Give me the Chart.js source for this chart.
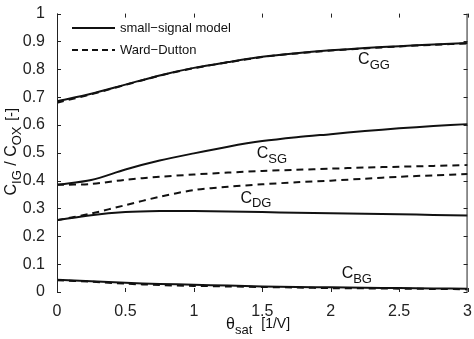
<!DOCTYPE html>
<html>
<head>
<meta charset="utf-8">
<script src="https://cdn.jsdelivr.net/npm/chart.js@4.4.0/dist/chart.umd.min.js"></script>
<style>
  html, body { margin: 0; padding: 0; background: #fff; }
  #wrap { width: 474px; height: 339px; position: relative; }
</style>
</head>
<body>
<div id="wrap"><canvas id="cap-chart"></canvas></div>
<script>
// theta_sat sample points [1/V]
const thetaSat = [0, 0.25, 0.5, 0.75, 1, 1.25, 1.5, 1.75, 2, 2.25, 2.5, 2.75, 3];

// small-signal model (solid)
const cggModel = [0.685, 0.712, 0.745, 0.778, 0.805, 0.826, 0.845, 0.858, 0.868, 0.876, 0.883, 0.889, 0.894];
const csgModel = [0.385, 0.402, 0.440, 0.472, 0.498, 0.522, 0.542, 0.556, 0.567, 0.578, 0.588, 0.596, 0.603];
const cdgModel = [0.258, 0.276, 0.287, 0.291, 0.291, 0.289, 0.287, 0.285, 0.283, 0.281, 0.279, 0.277, 0.275];
const cbgModel = [0.044, 0.039, 0.033, 0.029, 0.026, 0.023, 0.020, 0.018, 0.017, 0.015, 0.014, 0.013, 0.012];

// Ward-Dutton partition (dashed)
const cggWard = [0.680, 0.710, 0.744, 0.777, 0.804, 0.825, 0.844, 0.857, 0.867, 0.875, 0.882, 0.888, 0.893];
const csgWard = [0.385, 0.388, 0.403, 0.414, 0.422, 0.429, 0.435, 0.439, 0.443, 0.447, 0.450, 0.453, 0.456];
const cdgWard = [0.258, 0.282, 0.312, 0.342, 0.366, 0.378, 0.387, 0.394, 0.400, 0.407, 0.414, 0.419, 0.424];
const cbgWard = [0.042, 0.037, 0.030, 0.025, 0.022, 0.020, 0.018, 0.016, 0.014, 0.013, 0.012, 0.011, 0.010];

const xTicks = [0, 0.5, 1, 1.5, 2, 2.5, 3];
const yTicks = [0, 0.1, 0.2, 0.3, 0.4, 0.5, 0.6, 0.7, 0.8, 0.9, 1];

// curve labels: [text, subscript, theta, value]
const curveLabels = [
  ['C', 'GG', 2.2, 0.835],
  ['C', 'SG', 1.46, 0.497],
  ['C', 'DG', 1.34, 0.337],
  ['C', 'BG', 2.08, 0.067]
];

const FONT = '"Liberation Sans", Arial, sans-serif';

function toPoints(ys) {
  return thetaSat.map((x, i) => ({ x: x, y: ys[i] }));
}

function solid(ys) {
  return {
    data: toPoints(ys), borderColor: '#111', borderWidth: 2,
    pointRadius: 0, tension: 0.3, fill: false
  };
}

function dashed(ys) {
  return {
    data: toPoints(ys), borderColor: '#111', borderWidth: 2, borderDash: [7, 5],
    pointRadius: 0, tension: 0.3, fill: false
  };
}

// text with a lowered subscript, returns end x
function subText(ctx, main, sub, x, y, size) {
  ctx.font = size + 'px ' + FONT;
  ctx.fillText(main, x, y);
  let w = ctx.measureText(main).width;
  ctx.font = Math.round(size * 0.8) + 'px ' + FONT;
  ctx.fillText(sub, x + w, y + size * 0.35);
  return x + w + ctx.measureText(sub).width;
}

const framePlugin = {
  id: 'frame',
  afterDraw(chart) {
    const ctx = chart.ctx;
    const area = chart.chartArea;
    const xs = chart.scales.x, ys = chart.scales.y;
    ctx.save();
    ctx.strokeStyle = '#222';
    ctx.lineWidth = 1;
    ctx.beginPath();
    ctx.moveTo(area.left + 0.5, area.top); ctx.lineTo(area.left + 0.5, area.bottom);
    ctx.moveTo(area.right - 0.5, area.top); ctx.lineTo(area.right - 0.5, area.bottom);
    xTicks.forEach(v => {
      const px = Math.round(xs.getPixelForValue(v)) + 0.5;
      ctx.moveTo(px, area.bottom); ctx.lineTo(px, area.bottom - 4);
      ctx.moveTo(px, area.top); ctx.lineTo(px, area.top + 4);
    });
    yTicks.forEach(v => {
      const py = Math.round(ys.getPixelForValue(v)) + 0.5;
      ctx.moveTo(area.left, py); ctx.lineTo(area.left + 4, py);
      ctx.moveTo(area.right, py); ctx.lineTo(area.right - 4, py);
    });
    ctx.stroke();

    // legend
    ctx.lineWidth = 2;
    ctx.strokeStyle = '#111';
    ctx.beginPath();
    ctx.moveTo(72, 28); ctx.lineTo(115, 28);
    ctx.stroke();
    ctx.setLineDash([6, 4]);
    ctx.beginPath();
    ctx.moveTo(72, 50); ctx.lineTo(115, 50);
    ctx.stroke();
    ctx.setLineDash([]);
    ctx.fillStyle = '#111';
    ctx.textBaseline = 'middle';
    ctx.font = '13px ' + FONT;
    ctx.fillText('small\u2212signal model', 120, 28);
    ctx.fillText('Ward\u2212Dutton', 120, 50);

    // curve labels
    curveLabels.forEach(l => {
      subText(ctx, l[0], l[1], xs.getPixelForValue(l[2]), ys.getPixelForValue(l[3]), 16);
    });

    // x title
    let end = subText(ctx, '\u03b8', 'sat', 226, 325, 16);
    ctx.font = '14px ' + FONT;
    ctx.fillText('[1/V]', end + 9, 324);

    // y title, rotated
    ctx.translate(12, 150);
    ctx.rotate(-Math.PI / 2);
    ctx.textAlign = 'left';
    ctx.font = '16px ' + FONT;
    const w1 = ctx.measureText('C / C').width;
    ctx.font = '13px ' + FONT;
    const total = w1 + ctx.measureText('IGOX').width + 22;
    let x0 = -total / 2;
    x0 = subText(ctx, 'C', 'IG', x0, 0, 16);
    x0 = subText(ctx, ' / C', 'OX', x0, 0, 16);
    ctx.font = '14px ' + FONT;
    ctx.fillText(' [-]', x0 + 2, 0);
    ctx.restore();
  }
};

new Chart(document.getElementById('cap-chart'), {
  type: 'line',
  data: {
    datasets: [
      solid(cggModel), dashed(cggWard),
      solid(csgModel), dashed(csgWard),
      solid(cdgModel), dashed(cdgWard),
      solid(cbgModel), dashed(cbgWard)
    ]
  },
  options: {
    responsive: true,
    maintainAspectRatio: false,
    animation: false,
    layout: { padding: { left: 0, right: 5, top: 8, bottom: 0 } },
    plugins: { legend: { display: false }, tooltip: { enabled: false } },
    scales: {
      x: {
        type: 'linear', min: 0, max: 3,
        grid: { display: false }, border: { display: false },
        afterBuildTicks: s => { s.ticks = xTicks.map(v => ({ value: v })); },
        afterFit: s => { s.height = 47; },
        ticks: { color: '#222', font: { family: FONT, size: 16 }, padding: 2, maxRotation: 0,
                 callback: v => String(v) }
      },
      y: {
        min: 0, max: 1,
        grid: { display: false }, border: { display: false },
        afterBuildTicks: s => { s.ticks = yTicks.map(v => ({ value: v })); },
        afterFit: s => { s.width = 57; },
        ticks: { color: '#222', font: { family: FONT, size: 16 }, padding: 4,
                 callback: v => String(Math.round(v * 10) / 10) }
      }
    }
  },
  plugins: [framePlugin]
});
</script>
</body>
</html>
